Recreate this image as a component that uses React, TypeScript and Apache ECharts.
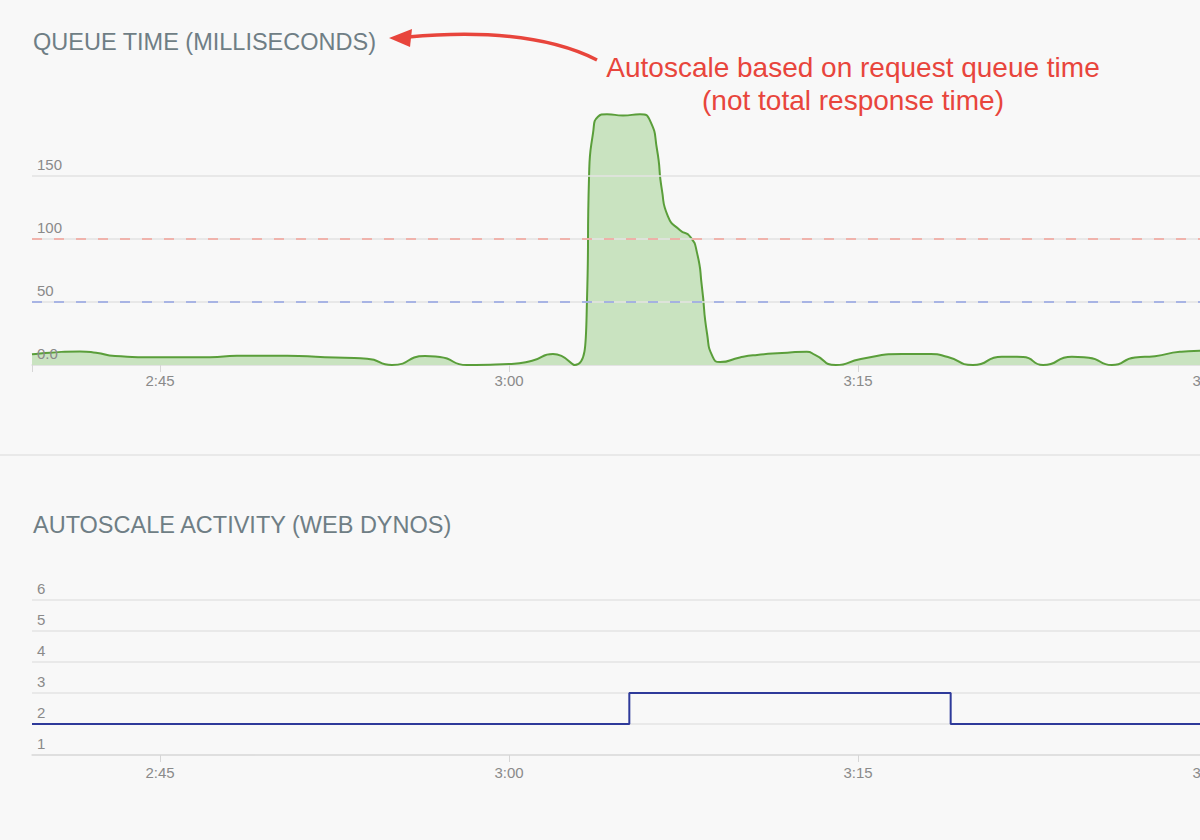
import React, { useEffect, useRef } from "react";
import * as echarts from "echarts";

// minutes past 2:00
const queueMinutes = [
  39.5, 40.27, 41.56, 42.25, 43.07, 44.7, 47.15, 48.31, 50.46, 52.09, 53.9, 54.97,
  56.39, 57.03, 58.19, 60.0, 60.99, 61.89, 62.83, 63.35, 63.44, 63.61, 63.82, 64.21,
  64.9, 65.63, 66.06, 66.36, 66.57, 66.83, 67.35, 67.78, 68.08, 68.29, 68.51, 68.76,
  69.07, 69.92, 70.66, 71.73, 72.8, 73.15, 74.05, 75.12, 76.89, 78.13, 78.86, 79.94,
  81.18, 82.09, 82.95, 84.19, 84.92, 85.91, 86.9, 87.76, 88.83, 89.69, 91.5,
];
const queueValues = [
  8.5, 9.8, 10.8, 9.8, 7.1, 6.1, 6.1, 7.4, 7.4, 6.1, 5, 0,
  7.1, 6.3, 0, 0.8, 3.4, 8.7, 0, 51, 150, 184, 197, 199,
  198, 199, 194, 171, 139, 118, 107, 102, 89, 62, 25, 6.3,
  2.4, 6, 8, 9.5, 10.5, 8, 0, 4.8, 8.7, 8.7, 6.3, 0,
  6.6, 6.3, 0, 6.6, 5.8, 0, 6, 7, 10.5, 11.3, 11.8,
];

const dynoMinutes = [39.5, 65.17, 78.98, 91.5];
const dynoValues = [2, 3, 2, 2];

const xTickMinutes = [45, 60, 75, 90];
const queueTickLabels = [0, 50, 100, 150];
const dynoTickLabels = [1, 2, 3, 4, 5, 6];

const X_MIN = 39.5;
const X_MAX = 91.5;

const FONT = "'Liberation Sans', Arial, Helvetica, sans-serif";

function fmtTime(m: number) {
  const h = 2 + Math.floor(m / 60);
  const mm = Math.round(m % 60);
  return `${h}:${mm < 10 ? "0" + mm : mm}`;
}

export default function App() {
  const ref = useRef<HTMLDivElement>(null);

  useEffect(() => {
    document.body.style.margin = "0";
    if (!ref.current) return;
    const chart = echarts.init(ref.current, undefined, { renderer: "svg" });

    const queueData = queueMinutes.map((m, i) => [m, queueValues[i]]);
    const dynoData = dynoMinutes.map((m, i) => [m, dynoValues[i]]);

    const xAxisBase = (gridIndex: number, ticks: number[], margin: number) => ({
      type: "value",
      gridIndex,
      min: X_MIN,
      max: X_MAX,
      axisLine: { show: true, lineStyle: { color: "#dcdcdc", width: 1.5 } },
      axisTick: {
        show: true,
        customValues: ticks,
        length: 7,
        lineStyle: { color: "#d6d6d6", width: 1 },
      },
      splitLine: { show: false },
      axisLabel: {
        customValues: xTickMinutes,
        formatter: (v: number) => fmtTime(v),
        color: "#8a8a8a",
        fontSize: 15,
        fontFamily: FONT,
        margin,
      },
    });

    const yLabel = (labels: number[], zeroText: string | null) => ({
      inside: true,
      margin: 5,
      verticalAlign: "bottom",
      padding: [0, 0, 4, 0],
      color: "#8a8a8a",
      fontSize: 15,
      fontFamily: FONT,
      formatter: (v: number) =>
        labels.indexOf(v) < 0 ? "" : v === 0 && zeroText ? zeroText : String(v),
    });

    const option: any = {
      animation: false,
      backgroundColor: "transparent",
      grid: [
        { left: 32, right: 18, top: 113, height: 252 },
        { left: 32, right: 18, top: 600, height: 155 },
      ],
      xAxis: [
        xAxisBase(0, [X_MIN, ...xTickMinutes], 8),
        xAxisBase(1, xTickMinutes, 10),
      ],
      yAxis: [
        {
          type: "value",
          gridIndex: 0,
          min: 0,
          max: 200,
          interval: 50,
          z: 10,
          axisLine: { show: false },
          axisTick: { show: false },
          splitLine: { show: false },
          axisLabel: yLabel(queueTickLabels, "0.0"),
        },
        {
          type: "value",
          gridIndex: 1,
          min: 1,
          max: 6,
          interval: 1,
          axisLine: { show: false },
          axisTick: { show: false },
          splitLine: { show: true, lineStyle: { color: "#e4e4e4", width: 1.5 } },
          axisLabel: yLabel(dynoTickLabels, null),
        },
      ],
      series: [
        {
          type: "line",
          xAxisIndex: 0,
          yAxisIndex: 0,
          data: [],
          silent: true,
          markLine: {
            silent: true,
            symbol: "none",
            label: { show: false },
            data: [
              { yAxis: 150, lineStyle: { color: "#e3e3e3", width: 1.5, type: "solid" } },
              { yAxis: 100, lineStyle: { color: "#e3e3e3", width: 1.5, type: "solid" } },
              { yAxis: 50, lineStyle: { color: "#e3e3e3", width: 1.5, type: "solid" } },
            ],
          },
          z: 1,
        },
        {
          type: "line",
          xAxisIndex: 0,
          yAxisIndex: 0,
          data: queueData,
          smooth: 0.6,
          showSymbol: false,
          symbol: "none",
          lineStyle: { color: "#5a9e3a", width: 2 },
          areaStyle: { color: "#c9e3c0", opacity: 1 },
          z: 2,
          markLine: {
            silent: true,
            symbol: "none",
            label: { show: false },
            data: [
              { yAxis: 100, lineStyle: { color: "#f2a198", width: 1.5, type: [10, 12] } },
              { yAxis: 50, lineStyle: { color: "#93a2e2", width: 1.5, type: [10, 12] } },
            ],
          },
        },
        {
          type: "line",
          xAxisIndex: 1,
          yAxisIndex: 1,
          data: dynoData,
          step: "end",
          showSymbol: false,
          symbol: "none",
          lineStyle: { color: "#2e3a9a", width: 2 },
          z: 3,
        },
      ],
      graphic: [
        {
          type: "text",
          left: 33,
          top: 30,
          style: {
            text: "QUEUE TIME (MILLISECONDS)",
            fill: "#6f7e85",
            fontSize: 23.5,
            fontFamily: FONT,
          },
        },
        {
          type: "text",
          left: 33,
          top: 513,
          style: {
            text: "AUTOSCALE ACTIVITY (WEB DYNOS)",
            fill: "#6f7e85",
            fontSize: 23.5,
            fontFamily: FONT,
          },
        },
        {
          type: "line",
          shape: { x1: 0, y1: 455, x2: 1260, y2: 455 },
          style: { stroke: "#e4e4e4", lineWidth: 1.5 },
        },
        {
          type: "text",
          x: 853,
          y: 67,
          style: {
            text: "Autoscale based on request queue time",
            fill: "#e8453c",
            fontSize: 28,
            fontFamily: FONT,
            align: "center",
            verticalAlign: "middle",
          },
        },
        {
          type: "text",
          x: 853,
          y: 100,
          style: {
            text: "(not total response time)",
            fill: "#e8453c",
            fontSize: 28,
            fontFamily: FONT,
            align: "center",
            verticalAlign: "middle",
          },
        },
        {
          type: "bezierCurve",
          shape: { x1: 597, y1: 60, cpx1: 530, cpy1: 26, x2: 408, y2: 37 },
          style: { stroke: "#e8453c", lineWidth: 3.5, fill: "none" },
        },
        {
          type: "polygon",
          shape: { points: [[389, 38], [412, 29], [410, 47]] },
          style: { fill: "#e8453c" },
        },
      ],
    };

    chart.setOption(option);
    return () => chart.dispose();
  }, []);

  return (
    <div
      style={{
        width: 1200,
        height: 840,
        overflow: "hidden",
        background: "#f8f8f8",
        position: "relative",
      }}
    >
      <div ref={ref} style={{ width: 1260, height: 840 }} />
    </div>
  );
}
